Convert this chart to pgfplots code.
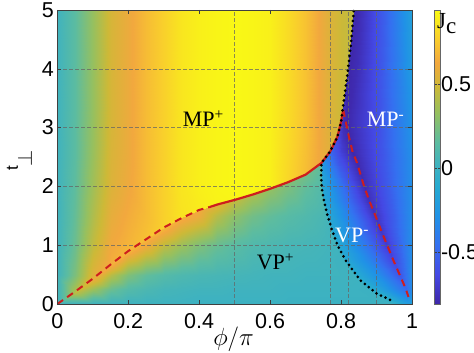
\documentclass[border=0pt]{standalone}
\usepackage{fontspec}
\setmainfont{Liberation Sans}
\newfontfamily\timesf{Liberation Serif}
\usepackage{pgfplots}
\pgfplotsset{compat=1.18}
\definecolor{redc}{RGB}{205,30,30}
\pgfplotsset{colormap={jc}{
 rgb255(0pt)=(62,38,168) rgb255(10pt)=(68,72,228) rgb255(20pt)=(52,112,240)
 rgb255(30pt)=(32,146,230) rgb255(40pt)=(38,170,208) rgb255(47pt)=(62,178,192)
 rgb255(55pt)=(92,188,160) rgb255(65pt)=(150,192,95) rgb255(74pt)=(205,185,55)
 rgb255(82pt)=(242,168,62) rgb255(90pt)=(249,205,45) rgb255(100pt)=(249,250,20)}}
\pgfplotsset{gridl/.style={black!60, line width=0.45pt, dash pattern=on 3.5pt off 2.5pt, opacity=0.75}}
\begin{document}
\begin{tikzpicture}
\begin{axis}[
  at={(0,0)}, anchor=origin,
  scale only axis, width=354.7pt, height=294pt,
  xmin=0, xmax=1, ymin=0, ymax=5,
  xtick={0,0.2,0.4,0.6,0.8,1}, ytick={0,1,2,3,4,5},
  xticklabels={0,0.2,0.4,0.6,0.8,1},
  /pgf/number format/assume math mode=true,
  tick label style={font=\fontsize{21.5}{24}\selectfont},
  xticklabel style={yshift=-6pt},
  xlabel={$\phi/\pi$},
  xlabel style={font=\fontsize{25}{27}\selectfont, inner sep=0pt, at={(axis description cs:0.497,0)}, anchor=north, yshift=-23pt},
  ylabel={\fontsize{17}{20}\selectfont t\kern-1pt\raisebox{-14pt}{\fontsize{20}{20}\selectfont$\perp$}},
  ylabel style={inner sep=0pt, at={(axis description cs:-0.0713,0.488)}, anchor=south},
  axis on top,
  axis line style={black!75, line width=0.5pt},
  major tick style={black!75},
  major tick length=4pt,
  colormap name=jc,
  point meta min=-0.81, point meta max=0.94,
  colorbar,
  colorbar style={at={(parent axis.north east)}, anchor=north west, xshift=13.7pt,
    width=6.3pt, ytick={-0.5,0,0.5}, yticklabels={-0.5,0,0.5},
    yticklabel style={font=\fontsize{21.5}{24}\selectfont, xshift=-3pt},
    axis line style={black!60}, major tick length=3pt},
]
% Region MP+ (above boundary)
\addplot[surf, shader=interp, mesh/cols=23, point meta=explicit] table[meta index=2] {
0 0 .02
.05 .21 .4
.1 .43 .58
.15 .67 .65
.2 .9 .68
.25 1.1 .72
.3 1.3 .78
.35 1.46 .84
.4 1.6 .88
.45 1.69 .91
.5 1.77 .92
.55 1.86 .92
.6 1.96 .9
.65 2.07 .8
.7 2.2 .7
.745 2.4 .6
.77 2.6 .55
.79 2.85 .5
.8 3.1 .48
.81 3.55 .47
.82 4.0 .46
.829 4.5 .45
.836 5 .44
0 .5 .02
.05 .5 .25
.1 .5 .55
.15 .67 .65
.2 .9 .68
.25 1.1 .72
.3 1.3 .78
.35 1.46 .84
.4 1.6 .88
.45 1.69 .91
.5 1.77 .92
.55 1.86 .92
.6 1.96 .9
.65 2.07 .8
.7 2.2 .7
.745 2.4 .6
.77 2.6 .55
.79 2.85 .5
.8 3.1 .48
.81 3.55 .47
.82 4.0 .46
.829 4.5 .45
.836 5 .44
0 1 .02
.05 1 .2
.1 1 .45
.15 1 .62
.2 1 .67
.25 1.1 .72
.3 1.3 .78
.35 1.46 .84
.4 1.6 .88
.45 1.69 .91
.5 1.77 .92
.55 1.86 .92
.6 1.96 .9
.65 2.07 .8
.7 2.2 .7
.745 2.4 .6
.77 2.6 .55
.79 2.85 .5
.8 3.1 .48
.81 3.55 .47
.82 4.0 .46
.829 4.5 .45
.836 5 .44
0 1.5 .02
.05 1.5 .18
.1 1.5 .4
.15 1.5 .58
.2 1.5 .64
.25 1.5 .7
.3 1.5 .78
.35 1.5 .85
.4 1.6 .88
.45 1.69 .91
.5 1.77 .92
.55 1.86 .92
.6 1.96 .9
.65 2.07 .8
.7 2.2 .7
.745 2.4 .6
.77 2.6 .55
.79 2.85 .5
.8 3.1 .48
.81 3.55 .47
.82 4.0 .46
.829 4.5 .45
.836 5 .44
0 2 .02
.05 2 .16
.1 2 .36
.15 2 .54
.2 2 .61
.25 2 .7
.3 2 .78
.35 2 .86
.4 2 .9
.45 2 .92
.5 2 .93
.55 2 .92
.6 2 .9
.65 2.07 .8
.7 2.2 .7
.745 2.4 .6
.77 2.6 .55
.79 2.85 .5
.8 3.1 .48
.81 3.55 .47
.82 4.0 .46
.829 4.5 .45
.836 5 .44
0 2.5 .02
.05 2.5 .15
.1 2.5 .34
.15 2.5 .53
.2 2.5 .6
.25 2.5 .7
.3 2.5 .78
.35 2.5 .86
.4 2.5 .9
.45 2.5 .92
.5 2.5 .93
.55 2.5 .92
.6 2.5 .9
.65 2.5 .81
.7 2.5 .71
.745 2.5 .6
.77 2.6 .55
.79 2.85 .5
.8 3.1 .48
.81 3.55 .47
.82 4.0 .46
.829 4.5 .45
.836 5 .44
0 3 .02
.05 3 .15
.1 3 .33
.15 3 .52
.2 3 .6
.25 3 .7
.3 3 .78
.35 3 .86
.4 3 .9
.45 3 .92
.5 3 .93
.55 3 .92
.6 3 .9
.65 3 .82
.7 3 .72
.745 3 .6
.77 3 .54
.79 3 .5
.8 3.1 .48
.81 3.55 .47
.82 4.0 .46
.829 4.5 .45
.836 5 .44
0 4 .02
.05 4 .15
.1 4 .33
.15 4 .52
.2 4 .6
.25 4 .7
.3 4 .78
.35 4 .86
.4 4 .9
.45 4 .92
.5 4 .93
.55 4 .92
.6 4 .9
.65 4 .82
.7 4 .72
.745 4 .6
.77 4 .54
.79 4 .5
.8 4 .48
.81 4 .47
.82 4 .46
.829 4.5 .45
.836 5 .44
0 5 .02
.05 5 .15
.1 5 .33
.15 5 .52
.2 5 .6
.25 5 .7
.3 5 .78
.35 5 .86
.4 5 .9
.45 5 .92
.5 5 .93
.55 5 .92
.6 5 .9
.65 5 .82
.7 5 .72
.745 5 .6
.77 5 .54
.79 5 .5
.8 5 .48
.81 5 .47
.82 5 .46
.829 5 .45
.836 5 .44
};
% Region VP+ (below boundary), part 1
\addplot[surf, shader=interp, mesh/cols=16, point meta=explicit] table[meta index=2] {
0 0 0
.05 0 .01
.1 0 .01
.15 0 .01
.2 0 .01
.25 0 .01
.3 0 .01
.35 0 .01
.4 0 .0
.45 0 .0
.5 0 .0
.55 0 .0
.6 0 .0
.65 0 .0
.7 0 .0
.745 0 .0
0 0 0
.05 .21 .45
.1 .25 .35
.15 .25 .2
.2 .25 .12
.25 .25 .08
.3 .25 .05
.35 .25 .04
.4 .25 .03
.45 .25 .03
.5 .25 .02
.55 .25 .02
.6 .25 .02
.65 .25 .01
.7 .25 .01
.745 .25 .01
0 0 0
.05 .21 .45
.1 .43 .6
.15 .5 .42
.2 .5 .26
.25 .5 .17
.3 .5 .12
.35 .5 .09
.4 .5 .07
.45 .5 .06
.5 .5 .05
.55 .5 .04
.6 .5 .03
.65 .5 .03
.7 .5 .02
.745 .5 .02
0 0 0
.05 .21 .45
.1 .43 .6
.15 .67 .66
.2 .9 .68
.25 1 .62
.3 1 .45
.35 1 .35
.4 1 .26
.45 1 .19
.5 1 .14
.55 1 .1
.6 1 .08
.65 1 .06
.7 1 .05
.745 1 .04
0 0 0
.05 .21 .45
.1 .43 .6
.15 .67 .66
.2 .9 .68
.25 1.1 .68
.3 1.3 .68
.35 1.46 .66
.4 1.5 .6
.45 1.5 .42
.5 1.5 .3
.55 1.5 .22
.6 1.5 .17
.65 1.5 .13
.7 1.5 .1
.745 1.5 .07
0 0 0
.05 .21 .45
.1 .43 .6
.15 .67 .66
.2 .9 .68
.25 1.1 .68
.3 1.3 .68
.35 1.46 .66
.4 1.6 .62
.45 1.69 .55
.5 1.77 .45
.55 1.86 .38
.6 1.96 .32
.65 2 .25
.7 2 .17
.745 2 .11
0 0 0
.05 .21 .45
.1 .43 .6
.15 .67 .66
.2 .9 .68
.25 1.1 .68
.3 1.3 .68
.35 1.46 .66
.4 1.6 .62
.45 1.69 .55
.5 1.77 .45
.55 1.86 .38
.6 1.96 .32
.65 2.07 .27
.7 2.2 .22
.745 2.4 .16
};
% Region VP+ part 2
\addplot[surf, shader=interp, mesh/cols=3, point meta=explicit] table[meta index=2] {
.745 0 0
.845 0 0
.945 0 0
.745 .25 .01
.8125 .25 .01
.88 .25 0
.745 .5 .02
.794 .5 .02
.843 .5 .01
.745 .75 .03
.7785 .75 .02
.812 .75 .01
.745 1 .04
.7675 1 .03
.79 1 .02
.745 1.25 .055
.76 1.25 .04
.775 1.25 .02
.745 1.5 .07
.7535 1.5 .05
.762 1.5 .03
.745 1.75 .09
.7485 1.75 .06
.752 1.75 .04
.745 2 .11
.745 2 .11
.745 2 .11
};
% Region VP- / MP-
\addplot[surf, shader=interp, mesh/cols=5, point meta=explicit] table[meta index=2] {
.945 0 0
.96 0 -.08
.975 0 -.15
.99 0 -.2
1 0 -.18
.88 .25 -.06
.93 .25 -.25
.983 .25 -.48
.992 .25 -.4
1 .25 -.3
.843 .5 -.1
.905 .5 -.3
.965 .5 -.58
.983 .5 -.45
1 .5 -.3
.812 .75 -.12
.88 .75 -.35
.947 .75 -.65
.974 .75 -.48
1 .75 -.3
.79 1 -.12
.86 1 -.38
.93 1 -.7
.965 1 -.5
1 1 -.3
.775 1.25 -.12
.845 1.25 -.4
.913 1.25 -.72
.956 1.25 -.52
1 1.25 -.3
.762 1.5 -.12
.83 1.5 -.42
.897 1.5 -.74
.948 1.5 -.53
1 1.5 -.3
.752 1.75 -.12
.815 1.75 -.44
.88 1.75 -.76
.94 1.75 -.54
1 1.75 -.3
.745 2 -.13
.805 2 -.47
.865 2 -.77
.932 2 -.55
1 2 -.3
.745 2.2 -.16
.8 2.2 -.52
.855 2.2 -.78
.928 2.2 -.56
1 2.2 -.3
.745 2.4 -.25
.795 2.4 -.58
.845 2.4 -.79
.922 2.4 -.57
1 2.4 -.3
.77 2.6 -.5
.8 2.6 -.68
.832 2.6 -.8
.916 2.6 -.58
1 2.6 -.29
.79 2.85 -.65
.806 2.85 -.75
.822 2.85 -.8
.911 2.85 -.59
1 2.85 -.28
.8 3.1 -.72
.809 3.1 -.78
.816 3.1 -.8
.908 3.1 -.59
1 3.1 -.27
.81 3.55 -.77
.816 3.55 -.8
.83 3.55 -.79
.91 3.55 -.58
1 3.55 -.25
.82 4 -.77
.826 4 -.8
.845 4 -.77
.915 4 -.56
1 4 -.22
.829 4.5 -.77
.835 4.5 -.8
.853 4.5 -.76
.92 4.5 -.54
1 4.5 -.2
.836 5 -.77
.842 5 -.8
.86 5 -.75
.925 5 -.52
1 5 -.18
};
% dashed grid lines
\addplot[gridl] coordinates {(0.5,0) (0.5,5)};
\addplot[gridl] coordinates {(0.77,0) (0.77,5)};
\addplot[gridl] coordinates {(0.82,0) (0.82,5)};
\addplot[gridl] coordinates {(0.9,0) (0.9,5)};
\addplot[gridl] coordinates {(0,1) (1,1)};
\addplot[gridl] coordinates {(0,2) (1,2)};
\addplot[gridl] coordinates {(0,3) (1,3)};
\addplot[gridl] coordinates {(0,4) (1,4)};
% red curves
\addplot[redc, line width=2pt, dash pattern=on 7pt off 5pt] coordinates {(0,0) (0.05,0.21) (0.1,0.43) (0.15,0.67) (0.2,0.9) (0.25,1.1) (0.3,1.3) (0.35,1.46) (0.4,1.6) (0.43,1.65)};
\addplot[redc, line width=2.2pt] coordinates {(0.43,1.65) (0.45,1.69) (0.5,1.77) (0.55,1.86) (0.6,1.96) (0.65,2.07) (0.7,2.2) (0.745,2.4) (0.77,2.6) (0.79,2.85) (0.8,3.1) (0.806,3.3)};
\addplot[redc, line width=2pt, dash pattern=on 7pt off 5pt] coordinates {(0.806,3.3) (0.816,3.02) (0.822,2.85) (0.832,2.6) (0.845,2.4) (0.855,2.2) (0.865,2.0) (0.88,1.75) (0.897,1.5) (0.913,1.25) (0.93,1.0) (0.947,0.75) (0.965,0.5) (0.983,0.25) (0.99,0.12)};
% black dotted boundary
\addplot[black, line width=3pt, line cap=round, dash pattern=on 0pt off 5pt] coordinates {(0.938,0.07) (0.9,0.18) (0.853,0.41) (0.812,0.75) (0.79,1.0) (0.775,1.25) (0.762,1.5) (0.752,1.75) (0.745,2.0) (0.744,2.2) (0.745,2.4) (0.77,2.6) (0.79,2.85) (0.8,3.1) (0.81,3.55) (0.82,4.0) (0.829,4.5) (0.836,5.0)};
% region labels
\node[anchor=base west, inner sep=0pt, font=\timesf\fontsize{22}{24}\selectfont] at (axis cs:0.3535,3.015) {MP\textsuperscript{+}};
\node[anchor=base west, inner sep=0pt, font=\timesf\fontsize{22}{24}\selectfont] at (axis cs:0.562,0.58) {VP\textsuperscript{+}};
\node[anchor=base west, inner sep=0pt, text=white, font=\timesf\fontsize{22}{24}\selectfont] at (axis cs:0.872,3.015) {MP\textsuperscript{-}};
\node[anchor=base west, inner sep=0pt, text=white, font=\timesf\fontsize{22}{24}\selectfont] at (axis cs:0.783,1.05) {VP\textsuperscript{-}};
\end{axis}
\node[anchor=north west, inner sep=0pt, font=\timesf\fontsize{23}{24}\selectfont] at (379.7pt,291pt) {J\raisebox{-5pt}{c}};
\pgfresetboundingbox
\useasboundingbox (-57.3pt,-49pt) rectangle (416.7pt,304pt);
\end{tikzpicture}
\end{document}
